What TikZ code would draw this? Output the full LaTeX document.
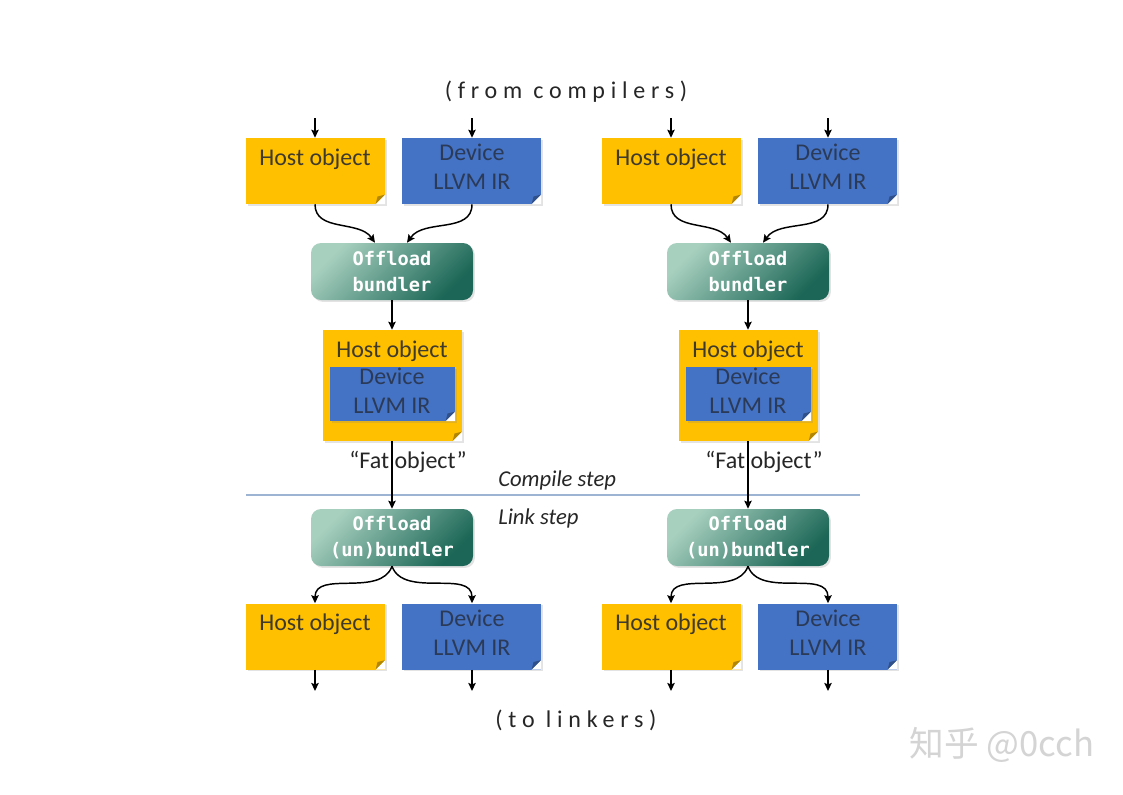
\documentclass[tikz,border=0pt]{standalone}
\usepackage{fontspec}
\setmainfont{Carlito}
\newfontfamily\monof{DejaVu Sans Mono}
\newfontfamily\spacedf{Carlito}[LetterSpace=24]
\newfontfamily\cjkf{Noto Sans CJK SC}
\usetikzlibrary{arrows.meta,calc,shadows}
\definecolor{hostY}{HTML}{FFC000}
\definecolor{devB}{HTML}{4472C4}
\definecolor{hostT}{HTML}{3F3A2E}
\definecolor{devT}{HTML}{2B3A57}
\definecolor{tealL}{HTML}{A8D0BF}
\definecolor{tealD}{HTML}{1B6656}
\definecolor{sepline}{HTML}{9DB5D3}
\definecolor{wm}{HTML}{D4D4D4}
\tikzset{
  notebox/.style={fill=#1, draw=none, inner sep=0pt,
    drop shadow={opacity=0.22, shadow xshift=1.4pt, shadow yshift=-1.4pt},
    path picture={
    \fill[white] ([xshift=-7pt]path picture bounding box.south east) -- (path picture bounding box.south east) -- ([yshift=7pt]path picture bounding box.south east) -- cycle;
    \fill[#1!70!black] ([xshift=-7pt]path picture bounding box.south east) -- ([xshift=-5.6pt,yshift=5.6pt]path picture bounding box.south east) -- ([yshift=7pt]path picture bounding box.south east) -- cycle;
  }},
  objbox/.style={notebox=#1, minimum width=104.25pt, minimum height=49.5pt},
  fatbox/.style={notebox=hostY, minimum width=104.25pt, minimum height=83.25pt},
  innerbox/.style={notebox=devB, minimum width=93.75pt, minimum height=40.5pt},
  bundlerbox/.style={rounded corners=7.5pt, top color=tealL, bottom color=tealD, shading angle=45,
    drop shadow={opacity=0.22, shadow xshift=1.4pt, shadow yshift=-1.4pt},
    minimum width=121.5pt, minimum height=42.75pt, inner sep=0pt, text=white, align=center,
    font=\monof\bfseries\fontsize{14}{19}\selectfont},
  hosttext/.style={text=hostT, font=\fontsize{18}{21.7}\selectfont, inner sep=0pt},
  devtext/.style={text=devT, font=\fontsize{18}{21.7}\selectfont, inner sep=0pt, align=center},
  steptext/.style={text=black!85, font=\itshape\fontsize{17}{20}\selectfont, anchor=west, inner sep=0pt},
  conn/.style={-{Stealth[length=6pt,width=5.5pt,inset=1pt]}, line width=1.1pt, black},
}
\begin{document}
\begin{tikzpicture}[x=0.75pt,y=-0.75pt]
\useasboundingbox (0,0) rectangle (1123,794);
\fill[white] (0,0) rectangle (1123,794);

\node[font=\spacedf\fontsize{18}{20}\selectfont, text=black!85, inner sep=0pt] (fromc) at (566,92) {(from compilers)};
\node[font=\spacedf\fontsize{18}{20}\selectfont, text=black!85, inner sep=0pt] (tolk) at (576,720) {(to linkers)};

\draw[sepline, line width=0.8pt] (246,495) -- (860,495);
\node[steptext] (cstep) at (498,480) {Compile step};
\node[steptext] (lstep) at (498,518) {Link step};

\foreach \dx/\s in {0/a,356/b}{
  % top inputs
  \node[objbox=hostY] (h1\s) at (315.5+\dx,171) {};
  \node[objbox=devB] (d1\s) at (471.5+\dx,171) {};
  \node[hosttext] (h1t\s) at (315+\dx,159) {Host object};
  \node[devtext] (d1t\s) at (472+\dx,166.5) {Device\\LLVM IR};
  \coordinate (inh\s) at (315+\dx,118);
  \coordinate (ind\s) at (472+\dx,118);
  \draw[conn] (inh\s) -- (h1\s.north -| inh\s);
  \draw[conn] (ind\s) -- (d1\s.north -| ind\s);
  % bundler
  \node[bundlerbox] (b\s) at (392+\dx,271.5) {Offload\\bundler};
  \draw[conn] (h1\s.south -| inh\s) to[out=-90,in=125] ($(b\s.north)+(-17,0)$);
  \draw[conn] (d1\s.south -| ind\s) to[out=-90,in=55] ($(b\s.north)+(15,0)$);
  % fat object
  \node[fatbox] (f\s) at (392.5+\dx,385.5) {};
  \node[innerbox] (fi\s) at (392.5+\dx,394) {};
  \node[hosttext] (ft\s) at (392+\dx,351) {Host object};
  \node[devtext] (fit\s) at (392+\dx,390.5) {Device\\LLVM IR};
  \draw[conn] (b\s.south) -- (f\s.north -| b\s.south);
  \node[text=black!85, font=\fontsize{18}{21}\selectfont, inner sep=0pt] (fl\s) at (408+\dx,462) {“Fat object”};
  % unbundler
  \node[bundlerbox] (u\s) at (392+\dx,537.5) {Offload\\(un)bundler};
  \draw[conn] (f\s.south -| b\s.south) -- (u\s.north);
  % outputs
  \node[objbox=hostY] (h2\s) at (315.5+\dx,636.5) {};
  \node[objbox=devB] (d2\s) at (471.5+\dx,636.5) {};
  \node[hosttext] (h2t\s) at (315+\dx,624) {Host object};
  \node[devtext] (d2t\s) at (472+\dx,632.5) {Device\\LLVM IR};
  \coordinate (oh\s) at (315+\dx,691);
  \coordinate (od\s) at (472+\dx,691);
  \draw[conn] (u\s.south) to[out=-110,in=90] (h2\s.north -| oh\s);
  \draw[conn] (u\s.south) to[out=-70,in=90] (d2\s.north -| od\s);
  \draw[conn] (h2\s.south -| oh\s) -- (oh\s);
  \draw[conn] (d2\s.south -| od\s) -- (od\s);
}

\node[text=wm, font=\cjkf\fontsize{26}{28}\selectfont, inner sep=0pt] (wmark) at (1002,745) {知乎 @0cch};
\end{tikzpicture}
\end{document}
